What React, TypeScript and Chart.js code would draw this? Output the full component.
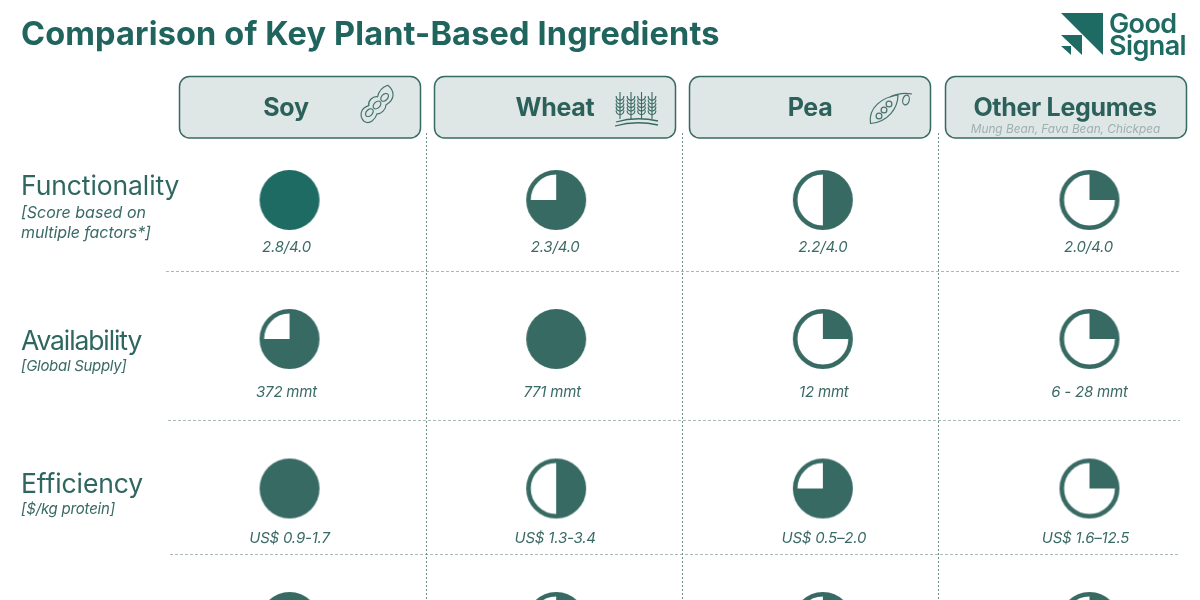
import React, { useEffect, useRef } from "react";
import { Chart, registerables } from "chart.js";

Chart.register(...registerables);

// ---------- data ----------
const INGREDIENTS = ["Soy", "Wheat", "Pea", "Other Legumes"];
const ROWS = ["Functionality", "Availability", "Efficiency", "Sustainability"];
const FUNCTIONALITY_QUARTERS = [4, 3, 2, 1];
const AVAILABILITY_QUARTERS = [3, 4, 1, 1];
const EFFICIENCY_QUARTERS = [4, 2, 3, 1];
const FOURTH_ROW_QUARTERS = [4, 2, 2, 2];
const FUNCTIONALITY_LABELS = ["2.8/4.0", "2.3/4.0", "2.2/4.0", "2.0/4.0"];
const AVAILABILITY_LABELS = ["372 mmt", "771 mmt", "12 mmt", "6 - 28 mmt"];
const EFFICIENCY_LABELS = ["US$ 0.9-1.7", "US$ 1.3-3.4", "US$ 0.5–2.0", "US$ 1.6–12.5"];
const TITLE = "Comparison of Key Plant-Based Ingredients";
const OTHER_SUB = "Mung Bean, Fava Bean, Chickpea";

const ROW_QUARTERS = [FUNCTIONALITY_QUARTERS, AVAILABILITY_QUARTERS, EFFICIENCY_QUARTERS, FOURTH_ROW_QUARTERS];
const ROW_VALUE_LABELS = [FUNCTIONALITY_LABELS, AVAILABILITY_LABELS, EFFICIENCY_LABELS];

// ---------- layout and style ----------
const ROW_BAND_HEIGHTS = [139, 139, 160, 107];
const DARK = "#386a64";
const DEEP = "#1d6b63";
const TEXT = "#3a6a65";
const FONT = "Inter, 'Liberation Sans', sans-serif";

function harveyBall(quarters: number, color: string) {
  const r = 30;
  const c = document.createElement("canvas");
  c.width = c.height = 2 * r + 2;
  const g = c.getContext("2d")!;
  const m = r + 1;
  g.fillStyle = color;
  if (quarters >= 4) {
    g.beginPath();
    g.arc(m, m, r, 0, Math.PI * 2);
    g.fill();
    return c;
  }
  g.strokeStyle = color;
  g.lineWidth = 4.6;
  g.beginPath();
  g.arc(m, m, r - 2.3, 0, Math.PI * 2);
  g.stroke();
  g.beginPath();
  g.moveTo(m, m);
  g.arc(m, m, r - 1, -Math.PI / 2, -Math.PI / 2 + (quarters * Math.PI) / 2);
  g.closePath();
  g.fill();
  return c;
}

function roundedChip(g: CanvasRenderingContext2D, x: number, w: number) {
  g.beginPath();
  g.roundRect(x, 76.5, w, 61.5, 10);
  g.fillStyle = "#dfe6e6";
  g.fill();
  g.lineWidth = 1.5;
  g.strokeStyle = DARK;
  g.stroke();
}

function text(
  g: CanvasRenderingContext2D,
  s: string,
  x: number,
  y: number,
  font: string,
  color: string,
  align: CanvasTextAlign = "left",
  spacing = "0px"
) {
  g.font = font;
  g.fillStyle = color;
  g.textAlign = align;
  g.textBaseline = "alphabetic";
  (g as any).letterSpacing = spacing;
  g.fillText(s, x, y);
  (g as any).letterSpacing = "0px";
}

function dashed(g: CanvasRenderingContext2D, x0: number, y0: number, x1: number, y1: number, color: string, dash: number[]) {
  g.save();
  g.setLineDash(dash);
  g.strokeStyle = color;
  g.lineWidth = 1;
  g.beginPath();
  g.moveTo(x0, y0);
  g.lineTo(x1, y1);
  g.stroke();
  g.restore();
}

function soyIcon(g: CanvasRenderingContext2D) {
  g.save();
  g.translate(377, 105);
  g.rotate(-Math.PI / 4);
  g.scale(0.9, 0.9);
  g.strokeStyle = "#44736d";
  g.lineWidth = 1.3;
  g.beginPath();
  g.moveTo(-23, 3);
  g.bezierCurveTo(-23, -7, -14, -10, -7, -6);
  g.bezierCurveTo(-4, -10.5, 4, -10.5, 7, -6);
  g.bezierCurveTo(13, -10, 20, -9, 24, -7);
  g.bezierCurveTo(25, 2, 20, 10, 7, 7);
  g.bezierCurveTo(4, 10.5, -4, 10.5, -7, 7);
  g.bezierCurveTo(-13, 10, -21, 10, -23, 3);
  g.closePath();
  g.stroke();
  for (const u of [-12, 0, 12]) {
    g.beginPath();
    g.ellipse(u, 0, 5, 3.4, 0, 0, Math.PI * 2);
    g.stroke();
  }
  g.restore();
}

function wheatIcon(g: CanvasRenderingContext2D) {
  g.save();
  g.strokeStyle = DARK;
  g.lineWidth = 1.1;
  for (const x of [620, 631, 641.5, 652]) {
    g.beginPath();
    g.moveTo(x, 92);
    g.lineTo(x, 119);
    g.stroke();
    for (let k = 0; k < 5; k++) {
      const y = 97 + k * 3.6;
      for (const side of [-1, 1]) {
        g.beginPath();
        g.moveTo(x, y + 3.4);
        g.quadraticCurveTo(x + side * 4.2, y + 2.4, x + side * 3.8, y - 1);
        g.stroke();
      }
    }
  }
  g.lineWidth = 1.3;
  g.beginPath();
  g.moveTo(616, 122);
  g.quadraticCurveTo(636, 116, 658, 121);
  g.stroke();
  g.beginPath();
  g.moveTo(615, 126);
  g.quadraticCurveTo(636, 120, 658, 125);
  g.stroke();
  g.restore();
}

function peaIcon(g: CanvasRenderingContext2D) {
  g.save();
  g.strokeStyle = "#44736d";
  g.lineWidth = 1.2;
  g.beginPath();
  g.moveTo(870.5, 123.5);
  g.bezierCurveTo(868, 108, 882, 97, 898, 95);
  g.bezierCurveTo(898, 108, 888, 122, 870.5, 123.5);
  g.closePath();
  g.stroke();
  for (const [x, y] of [[879, 116], [884, 110], [889, 104]]) {
    g.beginPath();
    g.arc(x, y, 2.9, 0, Math.PI * 2);
    g.stroke();
  }
  g.beginPath();
  g.ellipse(906, 100, 3.2, 5, 0.25, 0, Math.PI * 2);
  g.stroke();
  g.beginPath();
  g.moveTo(890, 97);
  g.quadraticCurveTo(900, 92, 912, 94);
  g.stroke();
  g.restore();
}

function logo(g: CanvasRenderingContext2D) {
  g.fillStyle = DEEP;
  for (const t of [
    [1061, 13, 1103, 13, 1103, 55],
    [1061, 35, 1082, 35, 1082, 55],
    [1061, 46, 1071, 46, 1071, 55],
  ]) {
    g.beginPath();
    g.moveTo(t[0], t[1]);
    g.lineTo(t[2], t[3]);
    g.lineTo(t[4], t[5]);
    g.closePath();
    g.fill();
  }
  text(g, "Good", 1109, 33, `600 27px ${FONT}`, DEEP, "left", "-0.6px");
  text(g, "Signal", 1109, 55, `600 27px ${FONT}`, DEEP, "left", "-0.6px");
}

const backdrop = {
  id: "backdrop",
  beforeDatasetsDraw(chart: any) {
    const g: CanvasRenderingContext2D = chart.ctx;
    g.save();
    text(g, TITLE, 21, 45, `700 32.5px ${FONT}`, "#1f655e", "left", "0.15px");
    logo(g);

    dashed(g, 166, 271.5, 1180, 271.5, "#a9bab7", [3, 2]);
    dashed(g, 168, 420.5, 1180, 420.5, "#a9bab7", [3, 2]);
    dashed(g, 170, 554.5, 1180, 554.5, "#a9bab7", [3, 2]);
    for (const x of [426.5, 682.5, 938.5]) dashed(g, x, 133, x, 600, "#6f8f8b", [2, 2]);

    const chipX = [179.5, 434.5, 689.5, 945.5];
    const headX = [286, 555, 810, 1065];
    chipX.forEach((x, i) => {
      roundedChip(g, x, 241);
      text(g, INGREDIENTS[i], headX[i], 115.5, `700 25px ${FONT}`, "#2c615b", "center", "-0.3px");
    });
    text(g, OTHER_SUB, 1065.5, 133, `italic 400 11.8px ${FONT}`, "#9cb0ae", "center");
    soyIcon(g);
    wheatIcon(g);
    peaIcon(g);

    text(g, ROWS[0], 21, 195, `400 26.5px ${FONT}`, "#2f6660", "left", "-0.1px");
    text(g, "[Score based on", 21, 218, `italic 400 16px ${FONT}`, TEXT);
    text(g, "multiple factors*]", 21, 238, `italic 400 16px ${FONT}`, TEXT, "left", "-0.1px");
    text(g, ROWS[1], 21, 350, `400 26.5px ${FONT}`, "#2f6660", "left", "-1.1px");
    text(g, "[Global Supply]", 21, 371, `italic 400 15px ${FONT}`, TEXT, "left", "-0.3px");
    text(g, ROWS[2], 21, 493, `400 26.5px ${FONT}`, "#2f6660", "left", "-0.1px");
    text(g, "[$/kg protein]", 21, 514, `italic 400 15px ${FONT}`, TEXT, "left", "-0.2px");
    g.restore();
  },
  afterDatasetsDraw(chart: any) {
    const g: CanvasRenderingContext2D = chart.ctx;
    const labelOffsetY = [52, 58, 54];
    const labelOffsetX = [
      [-3, -1, 0, -1],
      [-3, -4, 1, 0],
      [0, -1, 1, -4],
    ];
    g.save();
    ROW_VALUE_LABELS.forEach((labels, r) => {
      const yPix = chart.scales[`row${r}`].getPixelForValue(0);
      labels.forEach((s, c) => {
        const xPix = chart.scales.x.getPixelForValue(c);
        text(g, s, xPix + labelOffsetX[r][c], yPix + labelOffsetY[r], `italic 400 15px ${FONT}`, TEXT, "center", "-0.2px");
      });
    });
    g.restore();
  },
};

export default function App() {
  const ref = useRef<HTMLCanvasElement>(null);

  useEffect(() => {
    const rowScales: any = {};
    ROWS.forEach((name, i) => {
      rowScales[`row${i}`] = {
        axis: "y",
        type: "category",
        labels: [name],
        position: "left",
        stack: "rows",
        stackWeight: ROW_BAND_HEIGHTS[i],
        weight: ROWS.length - i,
        offset: true,
        display: false,
      };
    });

    const chart = new Chart(ref.current!, {
      type: "scatter",
      data: {
        datasets: ROWS.map((name, r) => ({
          label: name,
          yAxisID: `row${r}`,
          xAxisID: "x",
          data: INGREDIENTS.map((ing) => ({ x: ing, y: name })) as any,
          pointRadius: 30,
          pointHoverRadius: 30,
          pointStyle: ROW_QUARTERS[r].map((q, c) => harveyBall(q, r === 0 && c === 0 ? DEEP : DARK)) as any,
        })),
      },
      options: {
        animation: false,
        responsive: false,
        devicePixelRatio: 1,
        layout: { autoPadding: false, padding: { left: 156.17, right: 77.17, top: 130.5, bottom: 24.5 } },
        plugins: { legend: { display: false }, tooltip: { enabled: false } },
        scales: {
          x: { type: "category", labels: INGREDIENTS, offset: true, display: false },
          ...rowScales,
        },
      },
      plugins: [backdrop as any],
    });
    return () => chart.destroy();
  }, []);

  return (
    <div style={{ position: "fixed", left: 0, top: 0, width: 1200, height: 600, overflow: "hidden", background: "#fff" }}>
      <canvas ref={ref} width={1300} height={700} style={{ display: "block", width: 1300, height: 700 }} />
    </div>
  );
}
